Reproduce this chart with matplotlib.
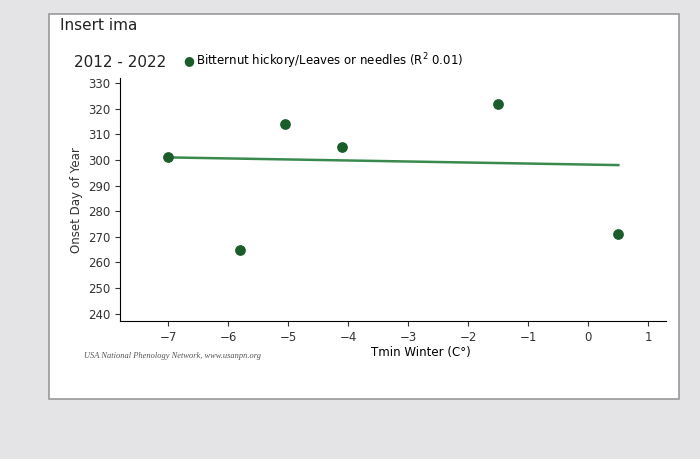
import matplotlib.pyplot as plt
import numpy as np

tmin = [-7.0, -5.8, -5.05, -4.1, -1.5, 0.5]
onset = [301, 265, 314, 305, 322, 271]
trend_x = [-7.0, 0.5]
trend_y = [301, 298]
yticks = [240, 250, 260, 270, 280, 290, 300, 310, 320, 330]
xticks = [-7, -6, -5, -4, -3, -2, -1, 0, 1]

fig = plt.figure(figsize=(7, 4.59), dpi=100)
fig.patch.set_facecolor('#e4e4e6')
panel = plt.Rectangle((0.07, 0.13), 0.9, 0.84, transform=fig.transFigure,
                      facecolor='white', edgecolor='#999999', lw=1.2, zorder=-5)
fig.patches.append(panel)
fig.text(0.085, 0.935, 'Insert ima', fontsize=11, color='#222222')
fig.text(0.105, 0.855, '2012 - 2022', fontsize=11, color='#222222')
fig.text(0.262, 0.867, '●', fontsize=9, color='#1a5c2a', va='center')
fig.text(0.28, 0.867, 'Bitternut hickory/Leaves or needles (R$^2$ 0.01)', fontsize=8.5, va='center')

ax = fig.add_axes([0.172, 0.30, 0.78, 0.53])
ax.set_zorder(2)
ax.patch.set_alpha(0)
ax.plot(trend_x, trend_y, color='#3a8a4f', lw=1.8)
ax.scatter(tmin, onset, s=45, color='#1a5c2a', zorder=3)
ax.set_xlim(-7.8, 1.3)
ax.set_ylim(237, 332)
ax.set_yticks(yticks)
ax.set_xticks(xticks)
ax.tick_params(labelsize=8.5, colors='#333333')
for s in ['top', 'right']:
    ax.spines[s].set_visible(False)
ax.set_xlabel('Tmin Winter (C°)', fontsize=8.5)
ax.xaxis.set_label_coords(0.55, -0.1)
ax.set_ylabel('Onset Day of Year', fontsize=8.5, color='#333333')
fig.text(0.12, 0.22, 'USA National Phenology Network, www.usanpn.org', fontsize=6,
         style='italic', color='#555555', family='Liberation Serif')
fig.savefig('out.png', dpi=100)
